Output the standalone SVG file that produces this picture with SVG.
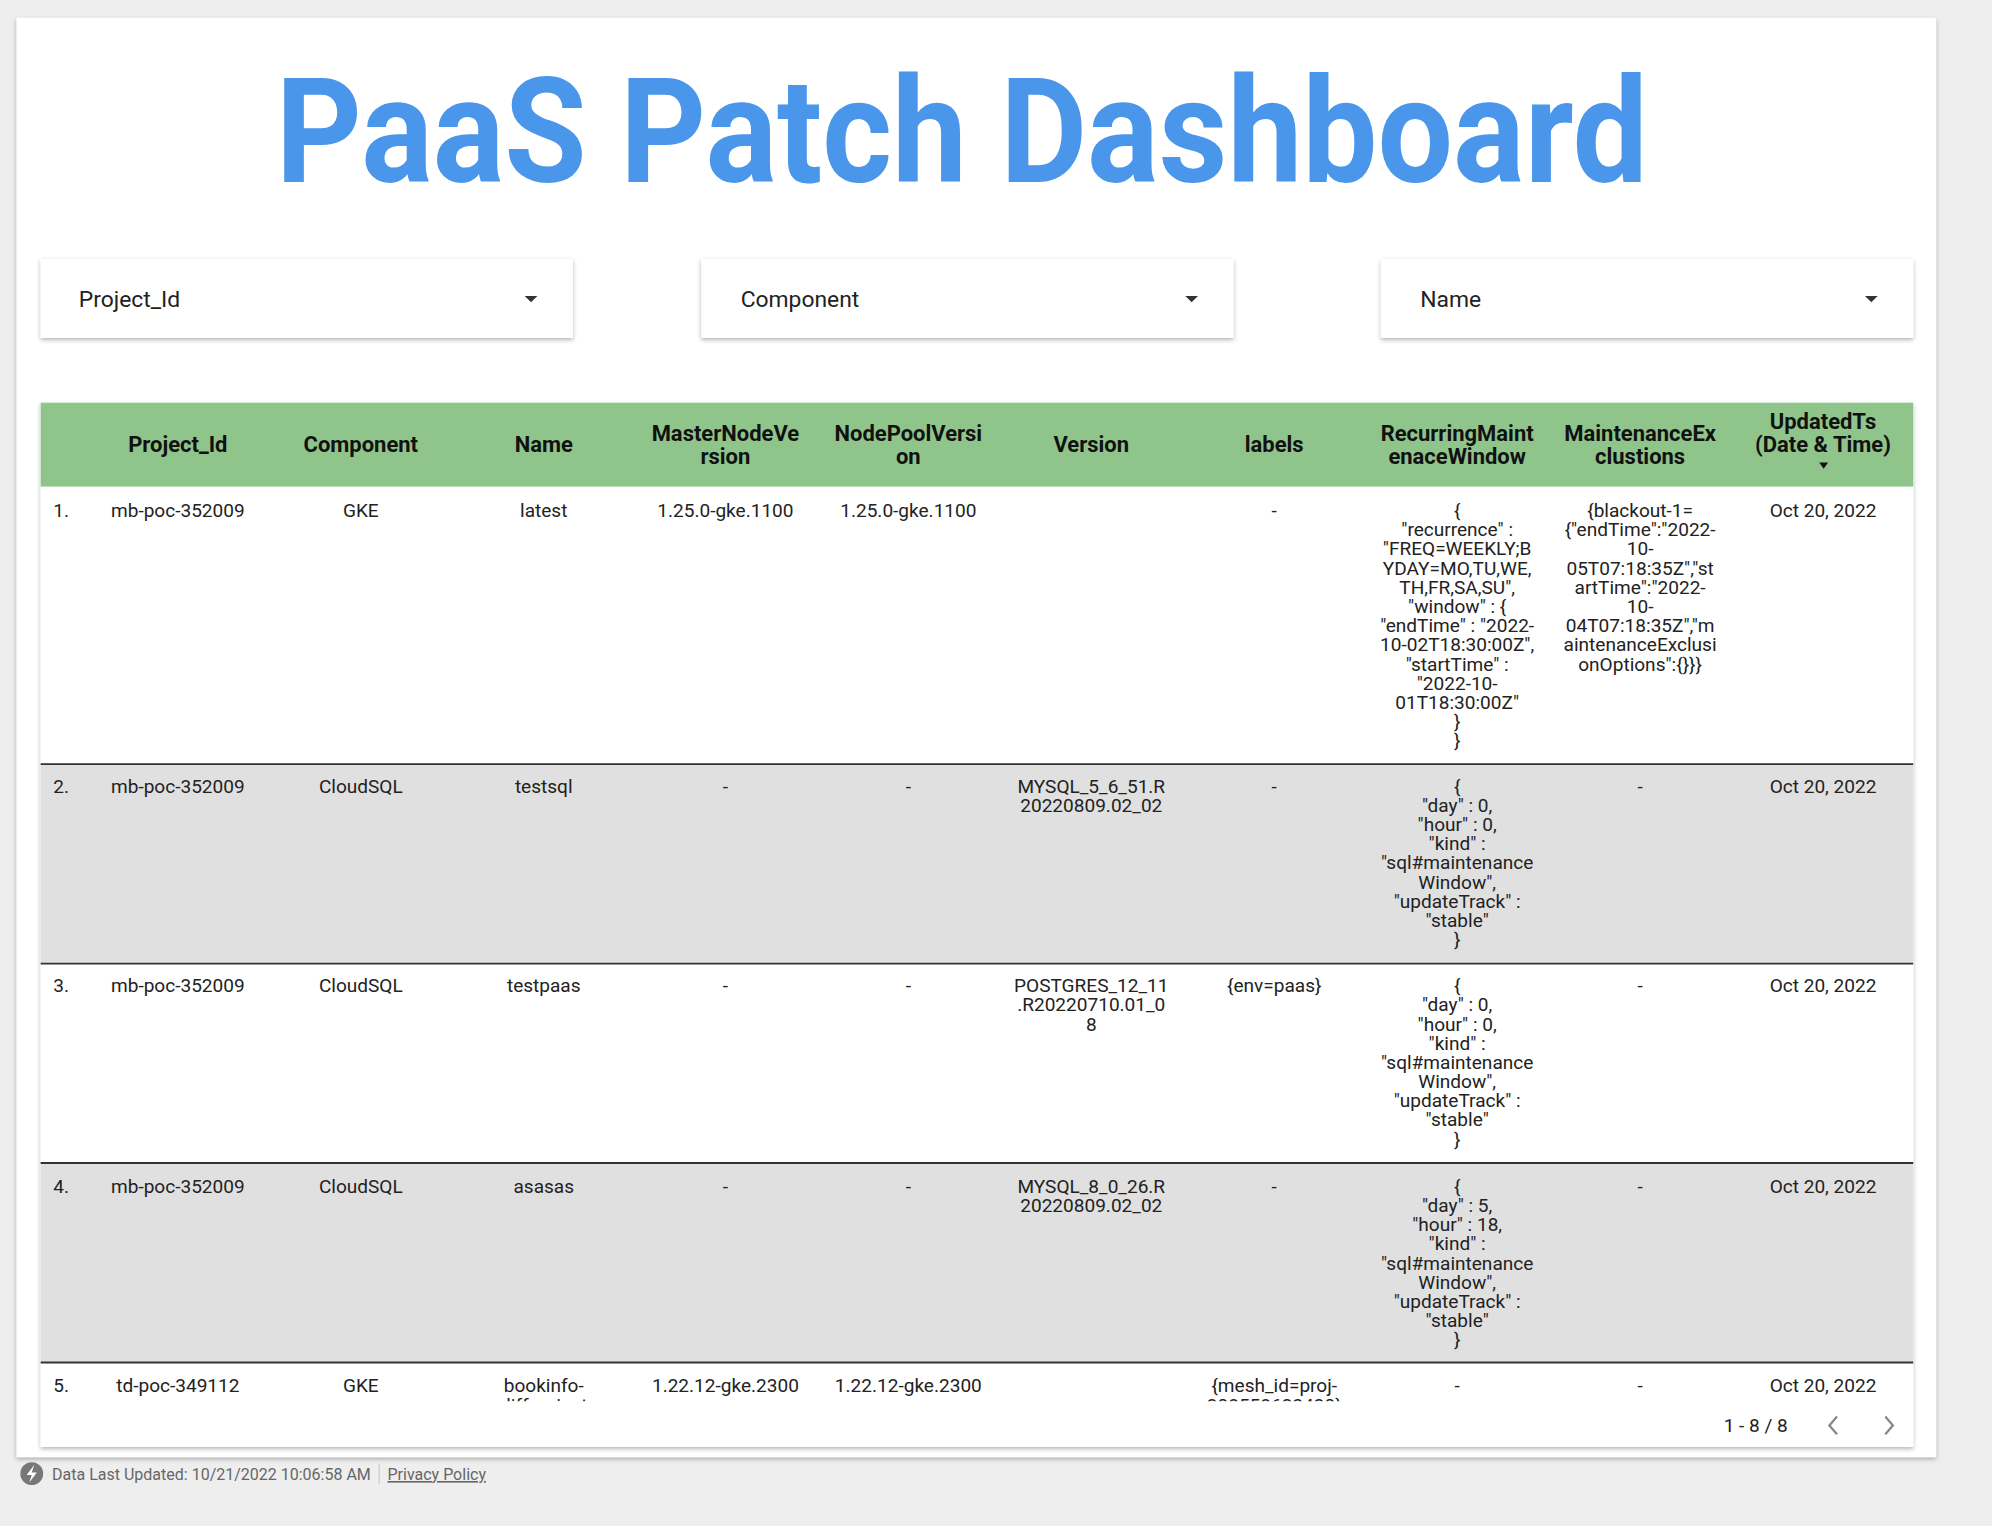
<svg xmlns="http://www.w3.org/2000/svg" width="1992" height="1526" viewBox="0 0 1992 1526">
<style>
.t{font-family:Roboto,"Liberation Sans",sans-serif;font-size:15px;fill:#222;text-anchor:middle}
.l{text-anchor:start}
.h{font-family:Roboto,"Liberation Sans",sans-serif;font-size:17.3px;font-weight:bold;fill:#111;text-anchor:middle}
.dd{font-family:Roboto,"Liberation Sans",sans-serif;font-size:18px;fill:#222}
.box{fill:#fff;filter:url(#sh)}
</style>
<defs>
<filter id="sh" x="-5%" y="-20%" width="110%" height="150%"><feDropShadow dx="0" dy="1.5" stdDeviation="1.5" flood-color="#000" flood-opacity="0.3"/></filter>
<clipPath id="c5"><rect x="32" y="1073" width="1474" height="30"/></clipPath>
</defs>
<rect width="1992" height="1526" fill="#eeeeee"/>
<g transform="scale(1.270408)">
<g id="page"><rect x="13" y="14" width="1511" height="1133" class="box"/></g>
<g id="title"><text x="757" y="143" text-anchor="middle" font-family="Roboto,'Liberation Sans',sans-serif" font-weight="bold" font-size="116" fill="#4a96ea" textLength="1080" lengthAdjust="spacingAndGlyphs">PaaS Patch Dashboard</text></g>
<g id="dd1"><rect x="32" y="204" width="419" height="62" class="box"/><text x="62" y="242" class="dd">Project_Id</text><path d="M413 233h10l-5 5z" fill="#333"/></g>
<g id="dd2"><rect x="552" y="204" width="419" height="62" class="box"/><text x="583" y="242" class="dd">Component</text><path d="M933 233h10l-5 5z" fill="#333"/></g>
<g id="dd3"><rect x="1087" y="204" width="419" height="62" class="box"/><text x="1118" y="242" class="dd">Name</text><path d="M1468 233h10l-5 5z" fill="#333"/></g>
<g id="table">
<rect x="32" y="317" width="1474" height="822" class="box"/>
<rect x="32" y="317" width="1474" height="66" fill="#8fc58a"/>
<rect x="32" y="601" width="1474" height="157" fill="#e0e0e0"/>
<rect x="32" y="915" width="1474" height="157" fill="#e0e0e0"/>
<g stroke="#333" stroke-width="1.5"><path d="M32 601.5H1506M32 758.5H1506M32 915.5H1506M32 1072.5H1506"/></g>
<g class="h">
<text x="140" y="356">Project_Id</text><text x="284" y="356">Component</text><text x="428" y="356">Name</text>
<text x="571" y="347">MasterNodeVe</text><text x="571" y="365">rsion</text>
<text x="715" y="347">NodePoolVersi</text><text x="715" y="365">on</text>
<text x="859" y="356">Version</text><text x="1003" y="356">labels</text>
<text x="1147" y="347">RecurringMaint</text><text x="1147" y="365">enaceWindow</text>
<text x="1291" y="347">MaintenanceEx</text><text x="1291" y="365">clustions</text>
<text x="1435" y="338">UpdatedTs</text><text x="1435" y="356">(Date &amp; Time)</text>
</g>
<path d="M1432 364h7l-3.5 5z" fill="#111"/>
<g class="t">
<text x="42" y="407" class="t l">1.</text><text x="140" y="407">mb-poc-352009</text><text x="284" y="407">GKE</text><text x="428" y="407">latest</text><text x="571" y="407">1.25.0-gke.1100</text><text x="715" y="407">1.25.0-gke.1100</text><text x="1003" y="407">-</text><text x="1435" y="407">Oct 20, 2022</text>
<text x="1147" y="407">{<tspan x="1147" dy="15.1">"recurrence" :</tspan><tspan x="1147" dy="15.1">"FREQ=WEEKLY;B</tspan><tspan x="1147" dy="15.1">YDAY=MO,TU,WE,</tspan><tspan x="1147" dy="15.1">TH,FR,SA,SU",</tspan><tspan x="1147" dy="15.1">"window" : {</tspan><tspan x="1147" dy="15.1">"endTime" : "2022-</tspan><tspan x="1147" dy="15.1">10-02T18:30:00Z",</tspan><tspan x="1147" dy="15.1">"startTime" :</tspan><tspan x="1147" dy="15.1">"2022-10-</tspan><tspan x="1147" dy="15.1">01T18:30:00Z"</tspan><tspan x="1147" dy="15.1">}</tspan><tspan x="1147" dy="15.1">}</tspan></text>
<text x="1291" y="407">{blackout-1=<tspan x="1291" dy="15.1">{"endTime":"2022-</tspan><tspan x="1291" dy="15.1">10-</tspan><tspan x="1291" dy="15.1">05T07:18:35Z","st</tspan><tspan x="1291" dy="15.1">artTime":"2022-</tspan><tspan x="1291" dy="15.1">10-</tspan><tspan x="1291" dy="15.1">04T07:18:35Z","m</tspan><tspan x="1291" dy="15.1">aintenanceExclusi</tspan><tspan x="1291" dy="15.1">onOptions":{}}}</tspan></text>

<text x="42" y="624" class="t l">2.</text><text x="140" y="624">mb-poc-352009</text><text x="284" y="624">CloudSQL</text><text x="428" y="624">testsql</text><text x="571" y="624">-</text><text x="715" y="624">-</text><text x="859" y="624">MYSQL_5_6_51.R<tspan x="859" dy="15.1">20220809.02_02</tspan></text><text x="1003" y="624">-</text><text x="1291" y="624">-</text><text x="1435" y="624">Oct 20, 2022</text>
<text x="1147" y="624">{<tspan x="1147" dy="15.1">"day" : 0,</tspan><tspan x="1147" dy="15.1">"hour" : 0,</tspan><tspan x="1147" dy="15.1">"kind" :</tspan><tspan x="1147" dy="15.1">"sql#maintenance</tspan><tspan x="1147" dy="15.1">Window",</tspan><tspan x="1147" dy="15.1">"updateTrack" :</tspan><tspan x="1147" dy="15.1">"stable"</tspan><tspan x="1147" dy="15.1">}</tspan></text>

<text x="42" y="781" class="t l">3.</text><text x="140" y="781">mb-poc-352009</text><text x="284" y="781">CloudSQL</text><text x="428" y="781">testpaas</text><text x="571" y="781">-</text><text x="715" y="781">-</text><text x="859" y="781">POSTGRES_12_11<tspan x="859" dy="15.1">.R20220710.01_0</tspan><tspan x="859" dy="15.1">8</tspan></text><text x="1003" y="781">{env=paas}</text><text x="1291" y="781">-</text><text x="1435" y="781">Oct 20, 2022</text>
<text x="1147" y="781">{<tspan x="1147" dy="15.1">"day" : 0,</tspan><tspan x="1147" dy="15.1">"hour" : 0,</tspan><tspan x="1147" dy="15.1">"kind" :</tspan><tspan x="1147" dy="15.1">"sql#maintenance</tspan><tspan x="1147" dy="15.1">Window",</tspan><tspan x="1147" dy="15.1">"updateTrack" :</tspan><tspan x="1147" dy="15.1">"stable"</tspan><tspan x="1147" dy="15.1">}</tspan></text>

<text x="42" y="939" class="t l">4.</text><text x="140" y="939">mb-poc-352009</text><text x="284" y="939">CloudSQL</text><text x="428" y="939">asasas</text><text x="571" y="939">-</text><text x="715" y="939">-</text><text x="859" y="939">MYSQL_8_0_26.R<tspan x="859" dy="15.1">20220809.02_02</tspan></text><text x="1003" y="939">-</text><text x="1291" y="939">-</text><text x="1435" y="939">Oct 20, 2022</text>
<text x="1147" y="939">{<tspan x="1147" dy="15.1">"day" : 5,</tspan><tspan x="1147" dy="15.1">"hour" : 18,</tspan><tspan x="1147" dy="15.1">"kind" :</tspan><tspan x="1147" dy="15.1">"sql#maintenance</tspan><tspan x="1147" dy="15.1">Window",</tspan><tspan x="1147" dy="15.1">"updateTrack" :</tspan><tspan x="1147" dy="15.1">"stable"</tspan><tspan x="1147" dy="15.1">}</tspan></text>

<g clip-path="url(#c5)">
<text x="42" y="1096" class="t l">5.</text><text x="140" y="1096">td-poc-349112</text><text x="284" y="1096">GKE</text><text x="428" y="1096">bookinfo-<tspan x="428" dy="15.1">diffproject</tspan></text><text x="571" y="1096">1.22.12-gke.2300</text><text x="715" y="1096">1.22.12-gke.2300</text><text x="1003" y="1096">{mesh_id=proj-<tspan x="1003" dy="15.1">308558623430}</tspan></text><text x="1147" y="1096">-</text><text x="1291" y="1096">-</text><text x="1435" y="1096">Oct 20, 2022</text>
</g>
<text x="1382" y="1127">1 - 8 / 8</text>
</g>
<path d="M1446 1115l-6 7 6 7M1484 1115l6 7-6 7" fill="none" stroke="#888" stroke-width="1.8"/>
</g>
<g id="footer" font-family="Roboto,'Liberation Sans',sans-serif" font-size="12.6" fill="#666">
<circle cx="25" cy="1160" r="9" fill="#777"/><path d="M27 1153l-6 8h4l-2 6 6-8h-4z" fill="#fff"/>
<text x="41" y="1165">Data Last Updated: 10/21/2022 10:06:58 AM</text>
<path d="M298.5 1152v16" stroke="#ccc"/>
<text x="305" y="1165" text-decoration="underline">Privacy Policy</text>
</g>
</g>
</svg>
